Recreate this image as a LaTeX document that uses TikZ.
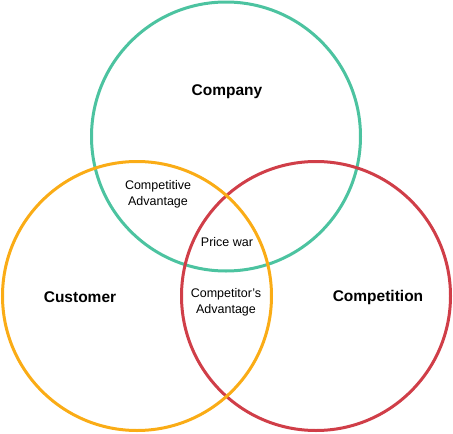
\documentclass[tikz,border=0pt]{standalone}
\usepackage{fontspec}
\setmainfont{Liberation Sans}
\definecolor{cteal}{RGB}{76,195,160}
\definecolor{corange}{RGB}{250,172,22}
\definecolor{cred}{RGB}{208,62,72}
\begin{document}
\begin{tikzpicture}[x=1pt,y=-1pt,
  ring/.style={line width=3pt},
  big/.style={font=\fontsize{15.5}{18}\selectfont\bfseries,inner sep=0pt},
  small/.style={font=\fontsize{12.5}{15.5}\selectfont,align=center,inner sep=0pt}]
\useasboundingbox (0,0) rectangle (453,434);
\draw[ring,cteal] (226,136.5) circle[radius=134.5];
\draw[ring,cred] (316,296) circle[radius=134.5];
\draw[ring,corange] (137,296) circle[radius=134.5];
\node[big] (company) at (227,92) {Company};
\node[big] (customer) at (80,297) {Customer};
\node[big] (competition) at (378,297) {Competition};
\node[small] (compadv) at (158,194.5) {Competitive\\Advantage};
\node[small] (price) at (227,242) {Price war};
\node[small] (comptadv) at (226,302.5) {Competitor's\\Advantage};
\end{tikzpicture}
\end{document}
